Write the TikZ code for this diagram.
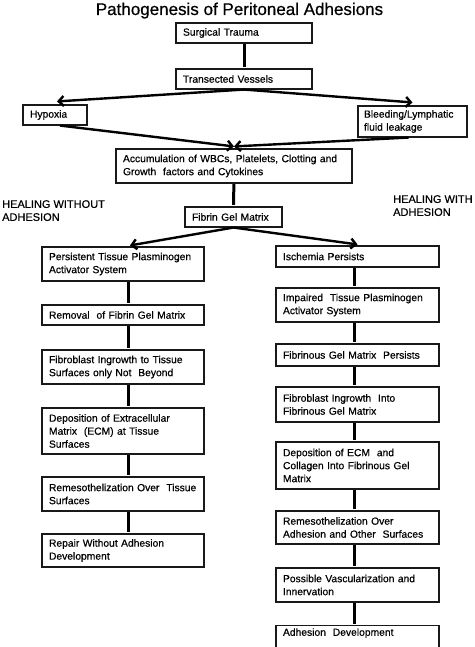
\documentclass[tikz,border=0pt]{standalone}
\usepackage{fontspec}
\setmainfont{Liberation Sans}
\newfontfamily\heavyfont[FakeBold=0.5]{Liberation Sans}
\usetikzlibrary{arrows.meta}
\begin{document}
\begin{tikzpicture}[x=1pt,y=-1pt,
  box/.style={draw=black!90, line width=1.1pt, rectangle, align=left, inner xsep=7pt, inner ysep=0pt,
    font=\heavyfont\fontsize{10.3}{13}\selectfont, fill=white},
  link/.style={line width=3pt, black, shorten >=1.5pt, shorten <=0.5pt},
  arr/.style={line width=2.4pt, black, -{Straight Barb[length=5pt,width=10pt]}},
  heading/.style={align=left, font=\heavyfont\fontsize{11}{13}\selectfont, inner sep=0pt, anchor=north west}]
\useasboundingbox (0,0) rectangle (474,647);
\fill[white] (0,0) rectangle (474,647);

\node[font=\heavyfont\fontsize{17}{20}\selectfont, anchor=base, inner sep=0pt] (title) at (239.5,15) {Pathogenesis of Peritoneal Adhesions};

\node[box, text width=122pt, minimum height=20pt] (trauma) at (244,33) {Surgical Trauma};
\node[box, text width=122pt, minimum height=20pt] (vessels) at (244,79) {Transected Vessels};
\node[box, text width=50pt, minimum height=20pt] (hypoxia) at (55,115) {Hypoxia};
\node[box, text width=97pt, minimum height=31pt, inner xsep=6pt] (bleeding) at (412.5,121.5) {Bleeding/Lymphatic\\fluid leakage};
\node[box, text width=222pt, minimum height=34pt] (accum) at (234,166) {Accumulation of WBCs, Platelets, Clotting and\\Growth\ \ factors and Cytokines};
\node[box, text width=83pt, minimum height=20pt] (fibrin) at (233.5,217) {Fibrin Gel Matrix};

\node[heading] (hwo) at (2,200) {HEALING WITHOUT\\ADHESION};
\node[heading] (hw) at (393,195) {HEALING WITH\\ADHESION};

% left column
\node[box, text width=148pt, minimum height=34pt] (L1) at (123,264) {Persistent Tissue Plasminogen\\Activator System};
\node[box, text width=148pt, minimum height=20pt] (L2) at (123,315) {Removal\ \ of Fibrin Gel Matrix};
\node[box, text width=148pt, minimum height=34pt] (L3) at (123,367) {Fibroblast Ingrowth to Tissue\\Surfaces only Not\ \ Beyond};
\node[box, text width=148pt, minimum height=46pt] (L4) at (123,431) {Deposition of Extracellular\\Matrix\ \ (ECM) at Tissue\\Surfaces};
\node[box, text width=148pt, minimum height=34pt] (L5) at (123,494) {Remesothelization Over\ \ Tissue\\Surfaces};
\node[box, text width=148pt, minimum height=33pt] (L6) at (123,550.5) {Repair Without Adhesion\\Development};

% right column
\node[box, text width=149pt, minimum height=21pt] (R1) at (357.5,256.5) {Ischemia Persists};
\node[box, text width=149pt, minimum height=34pt] (R2) at (357.5,305) {Impaired\ \ Tissue Plasminogen\\Activator System};
\node[box, text width=149pt, minimum height=22pt] (R3) at (357.5,355) {Fibrinous Gel Matrix\ \ Persists};
\node[box, text width=149pt, minimum height=35pt] (R4) at (357.5,404.5) {Fibroblast Ingrowth\ \ Into\\Fibrinous Gel Matrix};
\node[box, text width=149pt, minimum height=47pt] (R5) at (357.5,465.5) {Deposition of ECM\ \ and\\Collagen Into Fibrinous Gel\\Matrix};
\node[box, text width=149pt, minimum height=33pt] (R6) at (357.5,527.5) {Remesothelization Over\\Adhesion and Other\ \ Surfaces};
\node[box, text width=149pt, minimum height=34pt] (R7) at (357.5,585) {Possible Vascularization and\\Innervation};
\node[box, text width=149pt, minimum height=33pt, anchor=north, text depth=20pt] (R8) at (357.5,625) {Adhesion\ \ Development};

% connectors
\draw[link] (trauma) -- (vessels);
\draw[arr] (vessels.south) -- ([xshift=2pt,yshift=3pt]hypoxia.north);
\draw[arr] (vessels.south) -- ([yshift=3pt]bleeding.north);
\draw[arr] ([xshift=5pt]hypoxia.south) -- ([yshift=2pt]accum.north);
\draw[arr] ([xshift=-4pt]bleeding.south) -- ([yshift=2pt]accum.north);
\draw[link] (accum) -- (fibrin);
\draw[arr] (fibrin.south) -- ([xshift=7pt,yshift=1pt]L1.north);
\draw[arr] (fibrin.south) -- ([yshift=1pt]R1.north);

\foreach \a/\b in {L1/L2,L2/L3,L3/L4,L4/L5,L5/L6}
  \draw[link] ([xshift=5pt]\a.south) -- ([xshift=5pt]\b.north);
\foreach \a/\b in {R1/R2,R2/R3,R3/R4,R4/R5,R5/R6,R6/R7,R7/R8}
  \draw[link] ([xshift=-3pt]\a.south) -- ([xshift=-3pt]\b.north);
\end{tikzpicture}
\end{document}
